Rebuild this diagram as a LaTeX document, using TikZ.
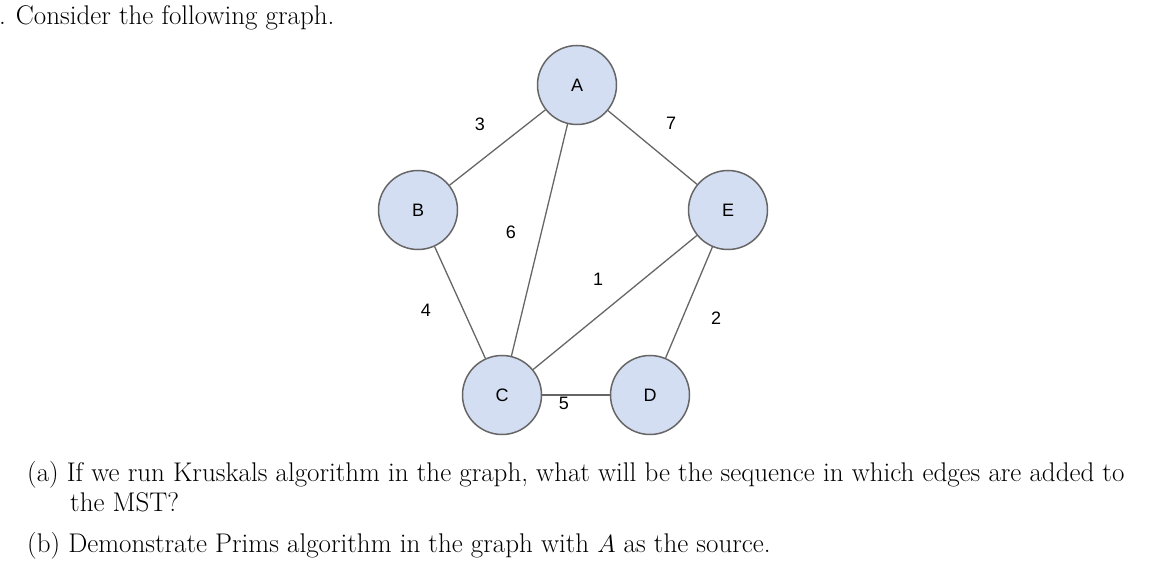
\documentclass[tikz,border=0pt]{standalone}
\usepackage{fontspec}
\newfontfamily\lab{Liberation Sans}
\definecolor{nfill}{HTML}{D4DEF2}
\definecolor{nline}{HTML}{666666}
\begin{document}
\begin{tikzpicture}[x=1pt,y=-1pt,
  vert/.style={circle,draw=nline,line width=1.5pt,fill=nfill,minimum size=79pt,inner sep=0pt,font=\lab\fontsize{18}{18}\selectfont},
  edge/.style={draw=nline,line width=1.3pt},
  wt/.style={font=\lab\fontsize{18}{18}\selectfont,inner sep=0pt},
  txt/.style={anchor=base west,inner sep=0pt,font=\fontsize{27}{32}\selectfont}]
\useasboundingbox (0,0) rectangle (1152,564);
\node[vert] (A) at (577,85) {A};
\node[vert] (B) at (418,210) {B};
\node[vert] (E) at (728,210) {E};
\node[vert] (C) at (502,395) {C};
\node[vert] (D) at (650,395) {D};
\draw[edge] (A) -- (B);
\draw[edge] (A) -- (C);
\draw[edge] (A) -- (E);
\draw[edge] (B) -- (C);
\draw[edge] (C) -- (E);
\draw[edge] (C) -- (D);
\draw[edge] (E) -- (D);
\node[wt] (w3) at (480,124) {3};
\node[wt] (w7) at (671,123) {7};
\node[wt] (w6) at (511,232) {6};
\node[wt] (w1) at (598,279) {1};
\node[wt] (w4) at (426,310) {4};
\node[wt] (w2) at (716,318) {2};
\node[wt] (w5) at (564,403) {5};
\node[txt] (t0) at (-1,25) {.\hspace{10pt}Consider the following graph.};
\node[txt] (t1) at (27,481) {(a) If we run Kruskals algorithm in the graph, what will be the sequence in which edges are added to};
\node[txt] (t2) at (70,511) {the MST?};
\node[txt] (t3) at (27,552) {(b) Demonstrate Prims algorithm in the graph with $A$ as the source.};
\end{tikzpicture}
\end{document}
